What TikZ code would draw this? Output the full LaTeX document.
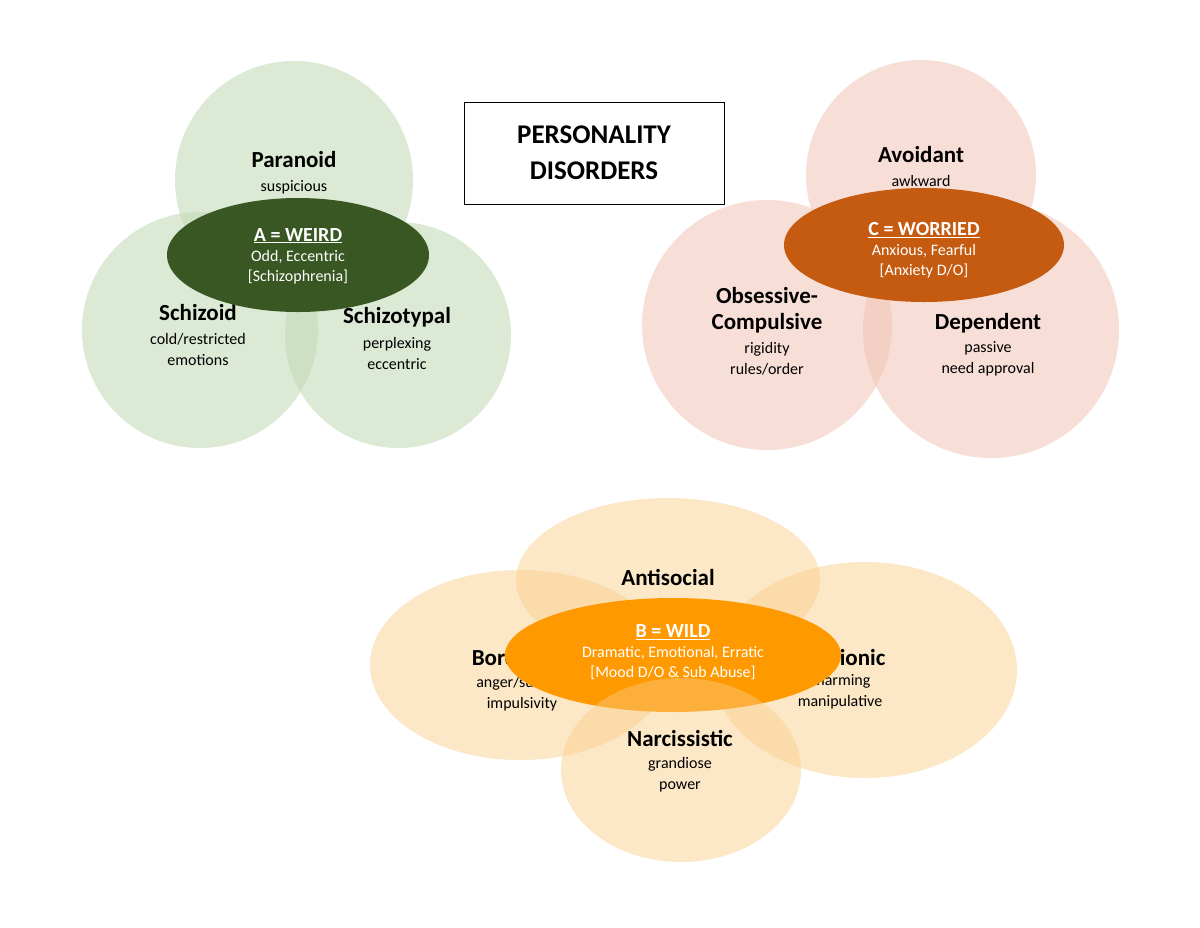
\documentclass[tikz,border=0pt]{standalone}
\usepackage{fontspec}
\setmainfont{Carlito}
\definecolor{gl}{HTML}{C5DBB8}
\definecolor{gd}{HTML}{385723}
\definecolor{rl}{HTML}{F2C4B6}
\definecolor{rd}{HTML}{C55A11}
\definecolor{ol}{HTML}{F9CD85}
\definecolor{od}{HTML}{FF9900}
\begin{document}
\begin{tikzpicture}[x=1pt,y=-1pt,
 gc/.style={fill=gl,fill opacity=0.6,draw=none},
 rc/.style={fill=rl,fill opacity=0.55,draw=none},
 oc/.style={fill=ol,fill opacity=0.45,draw=none},
 ttl/.style={font=\bfseries\fontsize{23}{26}\selectfont,align=center},
 sub/.style={font=\fontsize{16}{21}\selectfont,align=center},
 ctr/.style={text=white,align=center,font=\fontsize{16}{20}\selectfont}]
\useasboundingbox (0,0) rectangle (1200,927);
\fill[white] (0,0) rectangle (1200,927);
% Cluster A
\fill[gc] (294,180) circle (119);
\fill[gc] (200,330) circle (118);
\fill[gc] (398,335) circle (113);
\node[ttl] (par) at (294,160) {Paranoid};
\node[sub] (pars) at (294,187) {suspicious};
\node[ttl] (szd) at (198,313) {Schizoid};
\node[sub] (szds) at (198,349) {cold/restricted\\emotions};
\node[ttl] (szt) at (397,317) {Schizotypal};
\node[sub] (szts) at (397,353) {perplexing\\eccentric};
\fill[gd] (298,255) ellipse (131 and 57);
\node[ctr] (a) at (298,256) {\textbf{\fontsize{20}{24}\selectfont\underline{A = WEIRD}}\\Odd, Eccentric\\{[}Schizophrenia{]}};
% Title
\node[draw,thick,minimum width=260,minimum height=102,align=center,font=\bfseries\fontsize{27}{36}\selectfont] (t) at (594,153) {PERSONALITY\\DISORDERS};
% Cluster C
\fill[rc] (921,175) circle (115);
\fill[rc] (767,325) circle (125);
\fill[rc] (991,330) circle (128);
\node[ttl] (av) at (921,155) {Avoidant};
\node[sub] (avs) at (921,181) {awkward};
\node[ttl] (oc) at (767,310) {Obsessive-\\Compulsive};
\node[sub] (ocs) at (767,359) {rigidity\\rules/order};
\node[ttl] (dep) at (988,323) {Dependent};
\node[sub] (deps) at (988,359) {passive\\need approval};
\fill[rd] (924,245) ellipse (140 and 57);
\node[ctr] (c) at (924,250) {\textbf{\fontsize{20}{24}\selectfont\underline{C = WORRIED}}\\Anxious, Fearful\\{[}Anxiety D/O{]}};
% Cluster B
\fill[oc] (668,580) ellipse (152 and 82);
\fill[oc] (520,665) ellipse (150 and 95);
\fill[oc] (865,670) ellipse (152 and 108);
\node[ttl] (as) at (668,577) {Antisocial};
\node[ttl] (bl) at (522,658) {Borderline};
\node[sub] (bls) at (522,694) {anger/suicidal\\impulsivity};
\node[ttl] (hi) at (840,658) {Histrionic};
\node[sub] (his) at (840,692) {charming\\manipulative};
\fill[od] (673,655) ellipse (168 and 57);
\node[ctr] (b) at (673,652) {\textbf{\fontsize{20}{24}\selectfont\underline{B = WILD}}\\Dramatic, Emotional, Erratic\\{[}Mood D/O \& Sub Abuse{]}};
\fill[oc] (681,770) ellipse (120 and 92);
\node[ttl] (na) at (680,738) {Narcissistic};
\node[sub] (nas) at (680,775) {grandiose\\power};
\end{tikzpicture}
\end{document}
